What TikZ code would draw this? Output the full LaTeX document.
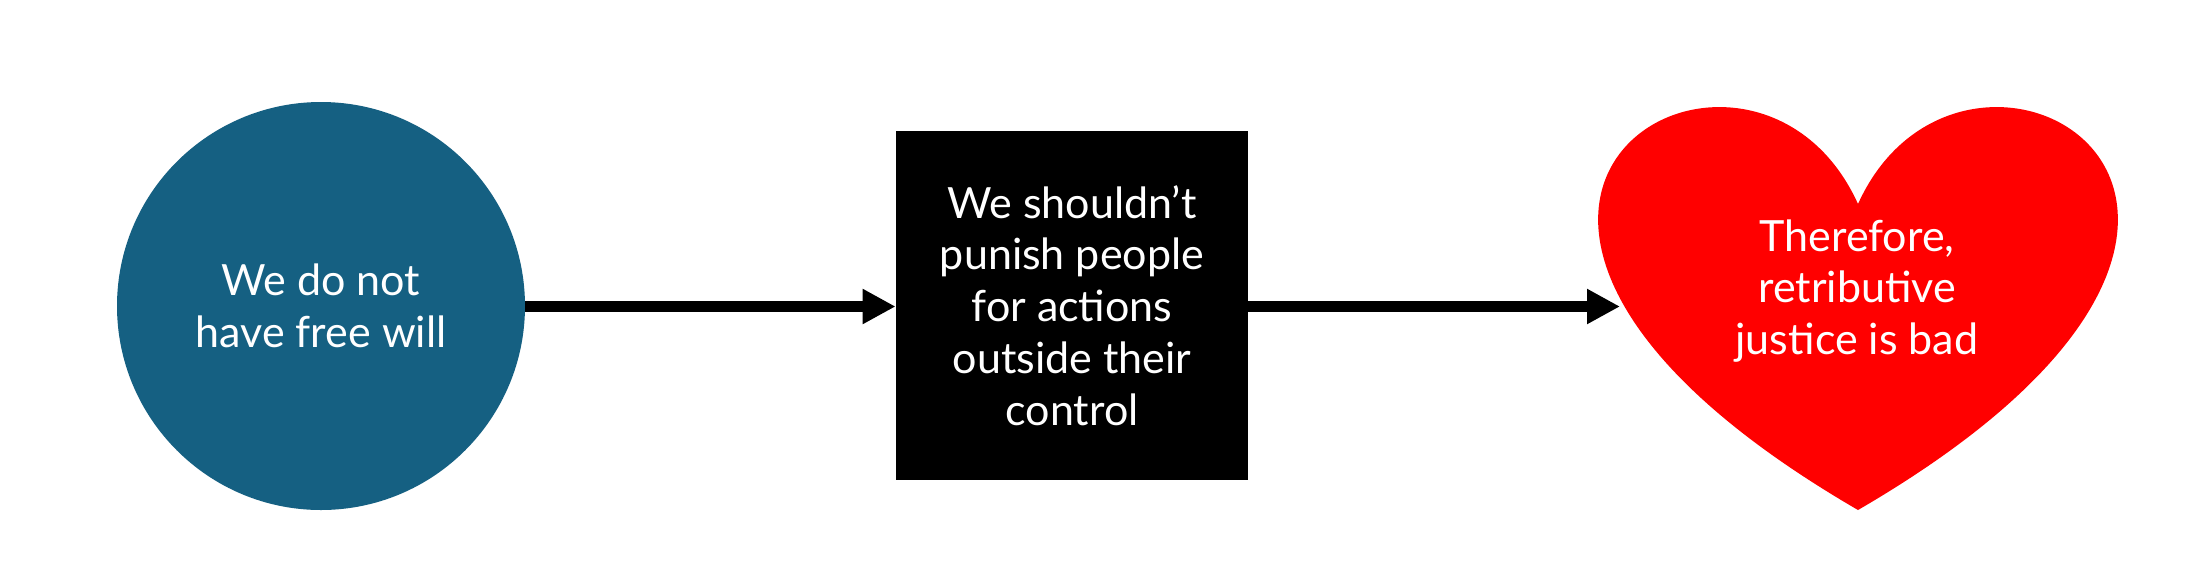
\documentclass[tikz,border=0pt]{standalone}
\usepackage{fontspec}
\setmainfont{Lato}
\usetikzlibrary{arrows.meta}
\definecolor{circblue}{HTML}{156082}
\definecolor{heartred}{HTML}{FF0000}
\tikzset{
  lbl/.style={text=white, align=center, font=\fontsize{21.5pt}{25.9pt}\selectfont, inner sep=0pt},
  conn/.style={line width=5.25pt, draw=black, -{Triangle[length=16.5pt,width=16.5pt]}},
}
\begin{document}
\begin{tikzpicture}[x=0.5pt,y=-0.5pt]
\useasboundingbox (0,0) rectangle (2192,580);
\fill[white] (0,0) rectangle (2192,580);
% circle
\node[circle, fill=circblue, minimum size=204pt, inner sep=0pt] (c) at (321,306) {};
\node[lbl] (ctext) at (321,306) {We do not\\have free will};
% box
\node[rectangle, fill=black, minimum width=176pt, minimum height=174.5pt, inner sep=0pt] (b) at (1072,305.5) {};
\node[lbl] (btext) at (1072,305.5) {We shouldn’t\\punish people\\for actions\\outside their\\control};
% heart
\fill[heartred] (1858,204) .. controls (1965.5,-34) and (2384.75,204) .. (1858,510)
   .. controls (1331.25,204) and (1750.5,-34) .. (1858,204) -- cycle;
\node[lbl] (h) at (1857,291) {Therefore,\\retributive\\justice is bad};
\coordinate (hin) at (1620,306.5);
% connectors
\draw[conn] (c.east |- 0,306.5) -- (b.west |- 0,306.5);
\draw[conn] (b.east |- 0,306.5) -- (hin);
\end{tikzpicture}
\end{document}
